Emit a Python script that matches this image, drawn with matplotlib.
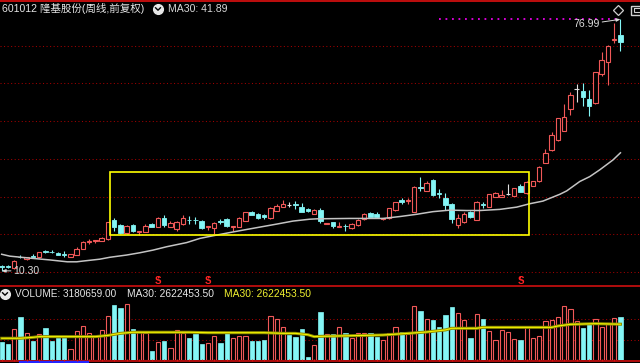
import numpy as np
import matplotlib.pyplot as plt
from matplotlib.patches import Rectangle

plt.rcParams['font.family'] = ['Liberation Sans', 'Noto Sans CJK SC', 'DejaVu Sans']

# weekly candles of 601012
opens = [11.6, 11.5, 11.0, 14.1, 13.4, 14.3, 13.9, 15.5, 15.4, 15.1,
         14.8, 14.1, 14.6, 16.1, 17.9, 18.3, 18.3, 18.7, 23.8, 22.5,
         20.3, 22.5, 20.5, 20.7, 22.7, 22.0, 24.4, 21.9, 21.3, 22.7,
         23.9, 23.9, 23.6, 21.9, 21.6, 23.5, 24.0, 21.9, 22.0, 23.6,
         26.0, 25.3, 25.0, 24.2, 26.2, 27.3, 27.8, 28.0, 27.3, 26.6,
         25.5, 26.4, 22.8, 23.2, 22.0, 22.3, 21.6, 22.5, 24.0, 25.6,
         25.3, 24.0, 24.2, 26.4, 29.2, 28.7, 26.0, 32.5, 31.6, 34.4,
         31.0, 29.7, 28.0, 22.5, 23.2, 25.8, 23.8, 27.9, 27.3, 30.0,
         30.0, 30.6, 30.2, 32.9, 30.9, 32.8, 34.0, 39.0, 42.4, 44.9,
         47.5, 53.2, 58.5, 58.1, 55.9, 54.7, 62.5, 65.8, 71.5, 72.9]
highs = [11.8, 11.9, 13.1, 14.4, 14.1, 14.8, 15.3, 15.9, 15.8, 15.3,
         15.6, 14.8, 16.6, 18.1, 18.7, 18.6, 19.3, 23.3, 24.3, 22.7,
         22.4, 22.8, 21.0, 22.7, 23.0, 24.5, 25.1, 23.5, 23.5, 25.1,
         24.8, 24.6, 23.7, 22.1, 23.2, 24.1, 24.3, 22.3, 24.7, 26.0,
         26.3, 25.6, 25.4, 27.1, 28.0, 29.1, 28.5, 28.9, 28.2, 26.9,
         26.6, 26.9, 23.1, 23.3, 23.2, 22.65, 22.9, 24.0, 25.6, 26.0,
         25.9, 24.4, 27.0, 28.6, 29.6, 29.7, 32.7, 35.3, 34.1, 34.7,
         32.0, 30.9, 28.2, 25.3, 26.0, 26.2, 28.7, 28.6, 30.8, 31.3,
         31.8, 33.3, 32.4, 33.2, 34.0, 34.1, 38.0, 42.5, 47.2, 50.8,
         54.5, 57.8, 59.9, 60.05, 58.3, 63.1, 68.2, 70.1, 76.0, 76.99]
lows = [10.30, 11.0, 10.9, 13.7, 13.3, 14.0, 13.8, 15.0, 15.1, 14.4,
        13.9, 14.0, 14.5, 16.0, 17.4, 17.6, 18.2, 18.6, 21.0, 20.2,
        20.1, 20.6, 19.9, 20.6, 21.8, 21.9, 22.0, 21.8, 20.9, 22.5,
        22.8, 22.7, 21.5, 21.2, 20.0, 22.6, 21.9, 21.0, 21.9, 23.5,
        25.0, 24.1, 24.0, 24.0, 26.1, 27.2, 27.1, 26.7, 25.8, 26.0,
        25.4, 22.9, 22.6, 21.7, 21.95, 20.95, 21.5, 22.3, 23.9, 24.6,
        24.4, 23.9, 24.1, 26.3, 28.0, 28.0, 25.9, 31.5, 31.5, 30.2,
        29.55, 26.4, 22.9, 21.6, 23.0, 24.3, 23.7, 26.9, 27.2, 29.8,
        29.9, 30.4, 30.1, 31.1, 30.8, 32.7, 33.9, 38.9, 42.2, 44.6,
        47.3, 51.6, 55.2, 54.0, 51.4, 54.6, 62.0, 59.6, 70.7, 68.7]
closes = [11.2, 11.3, 13.0, 13.9, 13.9, 14.1, 15.2, 15.3, 15.2, 14.6,
          14.6, 14.7, 16.2, 17.9, 18.1, 18.6, 19.1, 23.2, 22.0, 20.3,
          22.2, 20.8, 20.9, 22.2, 21.9, 24.2, 22.5, 22.9, 23.3, 24.2,
          23.7, 23.7, 21.6, 22.1, 23.1, 23.2, 22.1, 22.2, 24.2, 25.8,
          25.2, 24.4, 24.5, 26.9, 27.6, 28.0, 27.8, 27.7, 26.0, 26.3,
          26.4, 23.4, 23.0, 22.3, 22.15, 22.1, 22.7, 23.8, 25.4, 24.7,
          24.5, 24.3, 26.9, 28.5, 28.5, 29.0, 32.6, 32.3, 33.5, 30.4,
          30.8, 27.8, 24.0, 24.4, 25.3, 24.5, 28.6, 27.7, 30.6, 31.0,
          30.5, 30.6, 32.2, 31.3, 33.8, 34.0, 37.9, 41.6, 46.3, 50.7,
          51.0, 57.0, 58.5, 56.5, 54.0, 63.0, 66.2, 70.0, 71.9, 71.1]
# volume in millions
volumes = [1.34, 1.17, 2.24, 3.12, 2.00, 1.39, 1.90, 2.34, 1.39, 1.61,
           1.61, 0.83, 2.12, 2.49, 1.95, 1.76, 2.17, 3.25, 4.03, 3.83,
           4.10, 2.27, 2.12, 1.95, 0.66, 1.34, 1.42, 0.88, 2.20, 1.95,
           1.63, 1.93, 1.17, 1.22, 1.78, 1.24, 2.03, 1.59, 1.78, 1.73,
           1.37, 1.37, 1.46, 3.20, 2.98, 2.39, 1.83, 1.68, 2.27, 0.24,
           1.10, 3.51, 1.88, 1.88, 2.39, 2.00, 1.59, 2.00, 1.95, 2.00,
           1.66, 1.49, 2.00, 2.44, 2.07, 1.88, 3.95, 3.56, 2.98, 2.90,
           2.44, 3.29, 3.88, 3.42, 2.90, 1.59, 3.34, 2.98, 2.10, 1.46,
           2.17, 2.05, 1.51, 1.46, 2.39, 1.59, 1.73, 2.83, 2.90, 3.17,
           3.95, 3.76, 2.83, 2.32, 2.73, 3.03, 2.44, 2.68, 3.10, 3.18]

# MA30 lines, read at points along the curves
ma_idx = [0, 1.3, 5, 7.7, 10.5, 12, 13, 15.7, 17.3, 20, 22.1, 24.2, 26.4, 29.6,
          31.7, 33.8, 36, 38.6, 41.3, 44, 46.6, 49.3, 50.5, 55.7, 61, 63.7,
          66.4, 69, 71.7, 74.4, 76.5, 79.7, 82.4, 84.5, 86.6, 89.3, 90.4,
          92.5, 94.1, 95.7, 97.8, 99]
ma_val = [14.7, 14.2, 13.6, 13.2, 12.7, 12.7, 12.9, 13.4, 13.9, 14.5, 15.1, 15.8,
          16.7, 17.8, 18.9, 19.6, 20.3, 21.1, 21.9, 22.7, 23.5, 24.0, 24.1, 24.2,
          24.2, 24.7, 25.3, 26.0, 26.4, 26.3, 26.3, 26.6, 27.2, 28.1, 28.8, 30.6,
          31.5, 34.0, 35.3, 37.1, 39.7, 41.6]
vma_idx = [0, 3, 5, 6, 15, 17, 19, 21, 30, 33, 42, 45, 47, 49, 50, 51, 56, 61,
           65, 68, 71, 72, 76, 77, 88, 89, 91, 95, 99]
vma_val = [1.59, 1.59, 1.66, 1.71, 1.71, 1.80, 1.95, 2.03, 2.03, 2.00, 2.00, 1.95,
           1.95, 1.85, 1.71, 1.73, 1.78, 1.83, 1.95, 2.05, 2.20, 2.32, 2.32, 2.39,
           2.39, 2.49, 2.61, 2.66, 2.62]

low_price = 10.30
high_price = 76.99
signal_idx = [25, 33, 83]
box_x = (17.4, 84.4)
box_y = (19.76, 36.46)
price_grid = [10, 20, 30, 40, 50, 60, 70]
vol_grid = [1.5, 3.0]

RED = '#f05858'
CYAN = '#84f6f6'
WHITE = '#e0e0e0'
GRID = '#a00000'
H = 363.0

fig = plt.figure(figsize=(6.4, 3.63), dpi=100, facecolor='black')
xlim = (-0.272, 102.13)

# price panel
ax = fig.add_axes([0, 1 - 285 / H, 1, 283 / H])
ax.set_xlim(*xlim)
ax.set_ylim(6.553, 81.58)
ax.axis('off')
for g in price_grid:
    ax.axhline(g, color=GRID, lw=0.75, ls=(0, (1.0, 2.4)), zorder=1)

o = np.array(opens)
h = np.array(highs)
l = np.array(lows)
c = np.array(closes)
x = np.arange(len(c))
up = c > o
down = c < o
doji = c == o
col = np.where(up, RED, np.where(down, CYAN, WHITE))
top = np.maximum(o, c)
bot = np.minimum(o, c)
bw = 0.72
ax.vlines(x, top, h, colors=col, lw=0.8, zorder=2)
ax.vlines(x, l, bot, colors=col, lw=0.8, zorder=2)
ax.bar(x[up], (c - o)[up], bottom=o[up], width=bw, facecolor='black',
       edgecolor=RED, linewidth=0.8, zorder=3)
ax.bar(x[down], (o - c)[down], bottom=c[down], width=bw, color=CYAN,
       edgecolor=CYAN, linewidth=0.6, zorder=3)
ax.hlines(c[doji], x[doji] - bw / 2, x[doji] + bw / 2, colors=WHITE, lw=0.8, zorder=3)

ax.plot(ma_idx, ma_val, color='#c4c4c4', lw=1.1, zorder=4)

ax.add_patch(Rectangle((box_x[0], box_y[0]), box_x[1] - box_x[0], box_y[1] - box_y[0],
                       fill=False, ec='#ffff00', lw=1.2, zorder=5))

ax.hlines(high_price, 70, 99, colors='#e800e8', lw=1.3, ls=(0, (1, 2.6)), zorder=2)
ax.annotate('76.99', xy=(99, high_price), xytext=(-21, -5), textcoords='offset pixels',
            ha='right', va='center', color='#dcdcdc', fontsize=7.6,
            arrowprops=dict(arrowstyle='-|>,head_length=0.3,head_width=0.12',
                            color='#dcdcdc', lw=0.7, shrinkA=0, shrinkB=0))
ax.annotate('10.30', xy=(0, low_price), xytext=(12, 0), textcoords='offset pixels',
            ha='left', va='center', color='#dcdcdc', fontsize=7.6,
            arrowprops=dict(arrowstyle='-|>,head_length=0.3,head_width=0.12',
                            color='#dcdcdc', lw=0.7, shrinkA=0, shrinkB=0))

for s in signal_idx:
    ax.text(s, 7.5, 'S', color='#ff2424', fontsize=7, fontweight='bold',
            ha='center', va='center', zorder=6)
ax.vlines(signal_idx, 8.5, 8.9, colors='#ff2424', lw=0.8)

# volume panel
ax2 = fig.add_axes([0, 1 - 360 / H, 1, 72 / H])
ax2.set_xlim(*xlim)
ax2.set_ylim(0, 72 * 0.0732)
ax2.axis('off')
for g in vol_grid:
    ax2.axhline(g, color=GRID, lw=0.75, ls=(0, (1.0, 2.4)), zorder=1)
v = np.array(volumes)
prev = np.concatenate([[c[0]], c[:-1]])
vup = up | (doji & (c >= prev))
ax2.bar(x[vup], v[vup], width=0.66, facecolor='black', edgecolor=RED, linewidth=0.8, zorder=2)
ax2.bar(x[~vup], v[~vup], width=0.66, color=CYAN, edgecolor=CYAN, linewidth=0.5, zorder=2)
ax2.plot(vma_idx, vma_val, color='#8c8c00', lw=2.2, zorder=3)
ax2.plot(vma_idx, vma_val, color='#f4f400', lw=0.8, zorder=4)

# frame, headers and icons in pixel coordinates
ov = fig.add_axes([0, 0, 1, 1])
ov.set_xlim(0, 640)
ov.set_ylim(363, 0)
ov.axis('off')
ov.plot([0, 640], [0.8, 0.8], color='#e01010', lw=1.2)
ov.plot([0, 640], [286.3, 286.3], color='#e01010', lw=1.1)
ov.plot([0, 640], [361.3, 361.3], color='#e01010', lw=1.1)
ov.plot([20, 88], [361.6, 361.6], color='#2424ff', lw=1.6)
ov.vlines(1.7 + 6.25 * np.arange(0, 100, 2), 358.8, 361, colors='#e01010', lw=0.7)

ov.text(2, 9, '601012 隆基股份(周线,前复权)', color='#e6e6e6', fontsize=7.6,
        ha='left', va='center')
ov.plot(158, 9, 'o', ms=7, mfc='#e8e8e8', mec='#e8e8e8')
ov.plot([155.6, 158, 160.4], [7.8, 10.2, 7.8], color='black', lw=1.0)
ov.text(168, 9, 'MA30: 41.89', color='#d8d8d8', fontsize=7.6, ha='left', va='center')

ov.plot(5, 294, 'o', ms=7, mfc='#e8e8e8', mec='#e8e8e8')
ov.plot([2.6, 5, 7.4], [292.8, 295.2, 292.8], color='black', lw=1.0)
ov.text(15, 294, 'VOLUME: 3180659.00', color='#e6e6e6', fontsize=7.2,
        ha='left', va='center')
ov.text(127, 294, 'MA30: 2622453.50', color='#e6e6e6', fontsize=7.4,
        ha='left', va='center')
ov.text(224, 294, 'MA30: 2622453.50', color='#f0f030', fontsize=7.4,
        ha='left', va='center')

ov.plot(618, 10, 'D', ms=5, mfc='none', mec='#d0d0d0', mew=0.9)
ov.add_patch(Rectangle((631, 5.5), 12, 9, fill=False, ec='#d0d0d0', lw=1.0))
ov.add_patch(Rectangle((634, 8), 8, 4, fill=False, ec='#d0d0d0', lw=0.8))

fig.savefig('out.png', dpi=100, facecolor='black')
